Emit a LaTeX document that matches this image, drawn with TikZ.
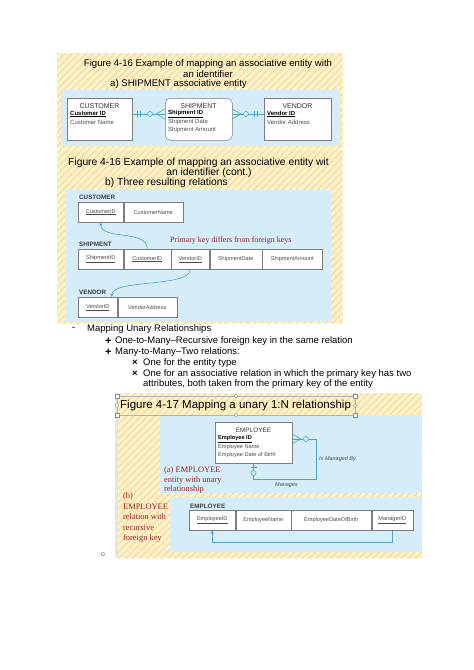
\documentclass[tikz,border=0pt]{standalone}
\usepackage{fontspec}
\setmainfont{Liberation Sans}
\newfontfamily\redserif{Liberation Serif}
\usetikzlibrary{patterns.meta,arrows.meta,calc}
\definecolor{slideyellow}{RGB}{252,241,204}
\definecolor{stripe}{RGB}{246,224,160}
\definecolor{panelblue}{RGB}{212,237,249}
\definecolor{boxline}{RGB}{125,125,125}
\definecolor{relline}{RGB}{78,164,200}
\definecolor{darkred}{RGB}{150,32,45}
\definecolor{txtgrey}{RGB}{75,75,75}
\newcommand{\myfs}[1]{\fontsize{#1}{#1}\selectfont}
\begin{document}
\begin{tikzpicture}[x=1pt,y=-1pt,
  slidebg/.style={fill=slideyellow, postaction={pattern={Lines[angle=45,distance=5pt,line width=1.5pt]}, pattern color=stripe}},
  panel/.style={fill=panelblue},
  ent/.style={draw=boxline, fill=white, line width=0.5pt, anchor=north west, inner sep=0},
  enthdr/.style={font=\myfs{7}, text=black!80, inner sep=0},
  entattr/.style={font=\myfs{6}, text=txtgrey, anchor=west, inner sep=0},
  rel/.style={draw=relline, line width=0.6pt},
  relcirc/.style={draw=relline, line width=0.6pt, fill=panelblue},
  cell/.style={draw=boxline, fill=white, line width=0.5pt, minimum height=20pt, inner sep=0, font=\myfs{5.6}, text=txtgrey, anchor=north west},
  tbllbl/.style={font=\bfseries\myfs{6.3}, text=black!75, anchor=west, inner sep=0},
  fk/.style={draw=relline, line width=0.6pt, -{Stealth[length=3.5pt,width=3pt]}},
  redtxt/.style={font=\redserif\myfs{8.4}, text=darkred, anchor=west, inner sep=0},
  bul/.style={font=\myfs{9.5}, anchor=west, inner sep=0},
  ttl/.style={font=\myfs{9.6}, inner sep=0},
  reltag/.style={font=\itshape\myfs{5.5}, text=txtgrey, anchor=west, inner sep=0},
  handle/.style={draw=black!45, fill=white, line width=0.4pt}
]
\useasboundingbox[fill=white] (0,0) rectangle (474,670);

% ---------------- slide 1 ----------------
\fill[slidebg] (57,53) rectangle (343,149);
\fill[panel] (61,90) rectangle (340,146);
\node[ttl] (t1a) at (208,64.5) {Figure 4-16 Example of mapping an associative entity with};
\node[ttl] (t1b) at (208,74.5) {an identifier};
\node[ttl, anchor=west] (t1c) at (110,84.5) {a) SHIPMENT associative entity};

\node[ent, minimum width=65pt, minimum height=42pt] (cust) at (67,98) {};
\node[enthdr] (custh) at (99.5,106) {CUSTOMER};
\node[entattr, text=black] (cid) at (70,114) {\textbf{\underline{Customer ID}}};
\node[entattr] (cname) at (70,122) {Customer Name};

\node[ent, rounded corners=5pt, minimum width=67pt, minimum height=42pt] (ship) at (165,98) {};
\node[enthdr] (shiph) at (198.5,106) {SHIPMENT};
\node[entattr, text=black] (sid) at (168,114) {\textbf{\underline{Shipment ID}}};
\node[entattr] (sdate) at (168,122) {Shipment Date};
\node[entattr] (samt) at (168,130) {Shipment Amount};

\node[ent, minimum width=67pt, minimum height=42pt] (vend) at (264,98) {};
\node[enthdr] (vendh) at (297.5,106) {VENDOR};
\node[entattr, text=black] (vid) at (267,114) {\textbf{\underline{Vendor ID}}};
\node[entattr] (vaddr) at (267,122) {Vendor Address};

\draw[rel] (cust.east |- cid.center) -- (ship.west |- cid.center);
\draw[rel] (ship.east |- cid.center) -- (vend.west |- cid.center);
% marks left
\draw[rel] (137,111) -- (137,117);
\draw[rel] (140,111) -- (140,117);
\draw[relcirc] (150,114) circle (2.5);
\draw[rel] (165,109) -- (156,114) -- (165,119);
% marks right
\draw[rel] (232,109) -- (241,114) -- (232,119);
\draw[relcirc] (246,114) circle (2.5);
\draw[rel] (254,111) -- (254,117);
\draw[rel] (257,111) -- (257,117);

% ---------------- slide 2 ----------------
\fill[slidebg] (57,150) rectangle (343,323);
\fill[panel] (65,190) rectangle (331,322);
\node[ttl, font=\myfs{10.3}, anchor=west] (t2a) at (68,162.5) {Figure 4-16 Example of mapping an associative entity wit};
\node[ttl, font=\myfs{10.3}] (t2b) at (209,172.7) {an identifier (cont.)};
\node[ttl, font=\myfs{10.3}, anchor=west] (t2c) at (105,182.9) {b) Three resulting relations};

\node[tbllbl] (lc) at (79,197) {CUSTOMER};
\node[cell, minimum width=45pt] (c1) at (78,202) {\underline{CustomerID}};
\node[cell, minimum width=59pt] (c2) at (c1.north east) {CustomerName};

\node[tbllbl] (ls) at (79,244) {SHIPMENT};
\node[cell, minimum width=45pt] (s1) at (78,249) {\underline{ShipmentID}};
\node[cell, minimum width=47pt] (s2) at (s1.north east) {\underline{CustomerID}};
\node[cell, minimum width=38pt] (s3) at (s2.north east) {\underline{VendorID}};
\node[cell, minimum width=52pt] (s4) at (s3.north east) {ShipmentDate};
\node[cell, minimum width=60pt] (s5) at (s4.north east) {ShipmentAmount};

\node[redtxt, font=\redserif\myfs{8}] (pk) at (170,241) {Primary key differs from foreign keys};

\node[tbllbl] (lv) at (79,292) {VENDOR};
\node[cell, minimum width=39pt] (v1) at (78,297) {\underline{VendorID}};
\node[cell, minimum width=59pt] (v2) at (v1.north east) {VendorAddress};

\draw[fk] (s2.north) .. controls +(0,-20) and +(0,18) .. (c1.south);
\draw[fk] (s3.south) .. controls +(0,18) and +(0,-18) .. ([xshift=14pt]v1.north);

% ---------------- bullets ----------------
\node[bul] (b0) at (72,329) {-};
\node[bul] (b0t) at (87,329) {Mapping Unary Relationships};
\node[bul, font=\bfseries\myfs{11}] (b1) at (105,341) {+};
\node[bul] (b1t) at (115,341) {One-to-Many–Recursive foreign key in the same relation};
\node[bul, font=\bfseries\myfs{11}] (b2) at (105,352) {+};
\node[bul] (b2t) at (115,352) {Many-to-Many–Two relations:};
\node[bul, font=\bfseries\myfs{9.5}] (b3) at (132,363) {×};
\node[bul] (b3t) at (143,363) {One for the entity type};
\node[bul, font=\bfseries\myfs{9.5}] (b4) at (132,374) {×};
\node[bul] (b4t) at (143,374) {One for an associative relation in which the primary key has two};
\node[bul] (b5t) at (143,384.5) {attributes, both taken from the primary key of the entity};

% ---------------- slide 3 ----------------
\fill[slidebg] (115,393) rectangle (422,558);
\fill[black!10] (115,393) rectangle (118,558);
\fill[panel] (160,415) rectangle (422,493);
\fill[panel] (170,497) rectangle (422,552);

\draw[black!30, line width=0.4pt] (117,396) rectangle (355,415);
\node[ttl, font=\myfs{11.5}, anchor=west] (t3) at (120,406) {Figure 4-17 Mapping a unary 1:N relationship};
\foreach \hx/\hy in {117/396,355/396,117/415,355/415}
  \draw[handle] (\hx-1.8,\hy-1.8) rectangle (\hx+1.8,\hy+1.8);
\foreach \hx/\hy in {236/396,236/415,117/405.5,355/405.5}
  \draw[handle] (\hx,\hy) circle (1.9);

\node[ent, minimum width=77pt, minimum height=41pt] (emp) at (215,422) {};
\node[enthdr, font=\myfs{6.4}] (emph) at (253.5,430) {EMPLOYEE};
\node[entattr, font=\myfs{5.6}, text=black] (eid) at (218,439) {\textbf{\underline{Employee ID}}};
\node[entattr, font=\myfs{5.6}] (ename) at (218,447) {Employee Name};
\node[entattr, font=\myfs{5.6}] (edob) at (218,455) {Employee Date of Birth};

\coordinate (rc) at (316,479);
\draw[rel] (emp.east |- eid.center) -| (rc) -| (emp.south);
\draw[rel] (292,434) -- (301,439) -- (292,444);
\draw[relcirc] (306,439) circle (2.5);
\draw[rel] (250.5,467) -- (256.5,467);
\draw[relcirc] (253.5,473) circle (2.5);
\node[reltag] (imb) at (319,459) {Is Managed By};
\node[reltag] (mng) at (275,485) {Manages};

\node[redtxt] (ra1) at (164,470) {(a) EMPLOYEE};
\node[redtxt] (ra2) at (164,480) {entity with unary};
\node[redtxt] (ra3) at (164,489) {relationship};
\node[redtxt] (rb1) at (123,496) {(b)};
\node[redtxt] (rb2) at (123,507) {EMPLOYEE};
\node[redtxt] (rb3) at (123,517) {relation with};
\node[redtxt] (rb4) at (123,528) {recursive};
\node[redtxt] (rb5) at (123,538) {foreign key};

\node[tbllbl] (le) at (190,506) {EMPLOYEE};
\node[cell, minimum width=46pt] (e1) at (189,510) {\underline{EmployeeID}};
\node[cell, minimum width=55pt] (e2) at (e1.north east) {EmployeeName};
\node[cell, minimum width=80pt] (e3) at (e2.north east) {EmployeeDateOfBirth};
\node[cell, minimum width=41pt] (e4) at (e3.north east) {\underline{ManagerID}};
\draw[fk] (e4.south) -- ++(0,12) -| (e1.south);

\node[font=\myfs{7}, text=black!60, inner sep=0] (ob) at (103,555) {o};
\end{tikzpicture}
\end{document}
